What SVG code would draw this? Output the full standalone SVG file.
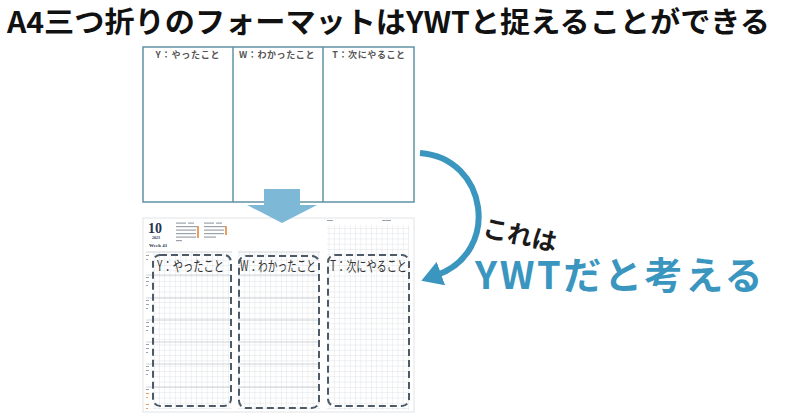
<svg xmlns="http://www.w3.org/2000/svg" width="800" height="419" viewBox="0 0 800 419">
<defs>
<style>
.jp{font-family:"Noto Sans CJK JP","Noto Sans",sans-serif}
.title{font-size:29px;font-weight:700;fill:#111}
.flab{font-size:9px;font-weight:700;fill:#555;text-anchor:middle}
.plab{font-size:14px;fill:#333}
.dash{fill:none;stroke:#4d5b68;stroke-width:2;stroke-dasharray:7 4}
.blk{stroke:#c4c9ce;stroke-width:0.8}
.mark{fill:#9aa3ab}
.orng{fill:#e8a060}
.serif{font-family:"Liberation Serif",serif;font-weight:700;fill:#1f3550}
</style>
<pattern id="grid" width="5.3" height="5.3" patternUnits="userSpaceOnUse">
<path d="M5.3 0H0V5.3" fill="none" stroke="#d2d7db" stroke-width="0.7"/>
</pattern>
<marker id="head" viewBox="0 0 20 24" refX="4" refY="12" markerWidth="21" markerHeight="25" markerUnits="userSpaceOnUse" orient="auto">
<path d="M0,0L20,12L0,24z" fill="#3a96bf"/>
</marker>
</defs>
<rect width="800" height="419" fill="#fff"/>

<g id="title">
<text class="jp title" x="7" y="33" textLength="763" lengthAdjust="spacingAndGlyphs">A4三つ折りのフォーマットはYWTと捉えることができる</text>
</g>

<g id="trifold">
<rect x="143" y="47" width="271" height="155" fill="#fff" stroke="#5f93a3" stroke-width="1.5"/>
<line x1="233" y1="47" x2="233" y2="202" stroke="#5f93a3" stroke-width="1.5"/>
<line x1="323" y1="47" x2="323" y2="202" stroke="#5f93a3" stroke-width="1.5"/>
<text class="jp flab" x="188" y="58" letter-spacing="0.8">Y：やったこと</text>
<text class="jp flab" x="277" y="58" letter-spacing="0.6">W：わかったこと</text>
<text class="jp flab" x="369" y="58" letter-spacing="0.6">T：次にやること</text>
</g>

<g id="planner">
<rect x="143" y="218" width="271" height="194" fill="#fff" stroke="#dfe3e6" stroke-width="1"/>
<text class="serif" x="148" y="233" font-size="14">10</text>
<text class="serif" x="152" y="238.5" font-size="4">2023</text>
<text class="serif" x="149" y="247" font-size="5">Week 41</text>
<g id="mini-calendars">
<rect class="mark" x="176" y="222.5" width="10" height="1.2"/>
<rect class="mark" x="188" y="222.5" width="6" height="1.2"/>
<rect class="mark" x="176" y="226" width="22" height="1.2"/>
<rect class="mark" x="176" y="229.5" width="20" height="1.2"/>
<rect class="mark" x="176" y="233" width="20" height="1.2"/>
<rect class="mark" x="176" y="236.5" width="20" height="1.2"/>
<rect class="mark" x="176" y="240" width="6" height="1.2"/>
<rect class="orng" x="197" y="226" width="2" height="12"/>
<rect class="mark" x="204" y="222.5" width="10" height="1.2"/>
<rect class="mark" x="216" y="222.5" width="6" height="1.2"/>
<rect class="mark" x="204" y="226" width="22" height="1.2"/>
<rect class="mark" x="204" y="229.5" width="20" height="1.2"/>
<rect class="mark" x="204" y="233" width="20" height="1.2"/>
<rect class="mark" x="204" y="236.5" width="12" height="1.2"/>
<rect class="orng" x="225" y="226" width="2" height="9"/>
</g>
<rect x="153" y="252" width="79" height="157" fill="url(#grid)"/>
<rect x="238" y="252" width="82" height="157" fill="url(#grid)"/>
<rect x="327" y="225" width="82" height="185" fill="url(#grid)"/>
<rect class="mark" x="327" y="220" width="6" height="1"/>
<rect class="mark" x="382" y="220" width="9" height="1"/>
<line class="blk" x1="146" y1="252" x2="232" y2="252"/>
<line class="blk" x1="238" y1="252" x2="320" y2="252"/>
<g class="blk">
<line x1="146" y1="275" x2="232" y2="275"/><line x1="238" y1="275" x2="320" y2="275"/>
<line x1="146" y1="298" x2="232" y2="298"/><line x1="238" y1="298" x2="320" y2="298"/>
<line x1="146" y1="320" x2="232" y2="320"/><line x1="238" y1="320" x2="320" y2="320"/>
<line x1="146" y1="342" x2="232" y2="342"/><line x1="238" y1="342" x2="320" y2="342"/>
<line x1="146" y1="364" x2="232" y2="364"/><line x1="238" y1="364" x2="320" y2="364"/>
<line x1="146" y1="387" x2="232" y2="387"/><line x1="238" y1="387" x2="320" y2="387"/>
</g>
<g id="time-scale">
<rect class="mark" x="146" y="255" width="3" height="1"/><rect class="mark" x="146" y="259" width="2" height="1"/>
<rect class="mark" x="146" y="277" width="3" height="1"/><rect class="mark" x="146" y="281" width="3" height="1"/><rect class="mark" x="146" y="285" width="2" height="1"/>
<rect class="mark" x="146" y="300" width="3" height="1"/><rect class="mark" x="146" y="304" width="3" height="1"/><rect class="mark" x="146" y="308" width="2" height="1"/>
<rect class="mark" x="146" y="322" width="3" height="1"/><rect class="mark" x="146" y="326" width="3" height="1"/><rect class="mark" x="146" y="330" width="2" height="1"/>
<rect class="mark" x="146" y="344" width="3" height="1"/><rect class="mark" x="146" y="348" width="3" height="1"/><rect class="mark" x="146" y="352" width="2" height="1"/>
<rect class="mark" x="146" y="366" width="3" height="1"/><rect class="mark" x="146" y="370" width="3" height="1"/><rect class="mark" x="146" y="374" width="2" height="1"/>
<rect class="mark" x="146" y="389" width="3" height="1"/><rect class="orng" x="146" y="393" width="3" height="1"/><rect class="orng" x="146" y="397" width="2" height="1"/>
<rect class="orng" x="146" y="404" width="3" height="1"/><rect class="orng" x="146" y="408" width="2" height="1"/>
</g>
<rect class="dash" x="153" y="255" width="78" height="151" rx="7"/>
<rect class="dash" x="239" y="256" width="80" height="152" rx="7"/>
<rect class="dash" x="328" y="255" width="81" height="151" rx="7"/>
<text class="jp plab" x="157" y="271" textLength="67" lengthAdjust="spacingAndGlyphs">Y：やったこと</text>
<text class="jp plab" x="240" y="271" textLength="76" lengthAdjust="spacingAndGlyphs">W：わかったこと</text>
<text class="jp plab" x="330" y="271" textLength="77" lengthAdjust="spacingAndGlyphs">T：次にやること</text>
</g>

<g id="down-arrow">
<polygon points="264,189 300,189 300,205 317,205 282,223 247,205 264,205" fill="#7db9d7"/>
</g>

<g id="connectors">
<path d="M420,153 C488,158 501,252 437,275" fill="none" stroke="#3a96bf" stroke-width="6" marker-end="url(#head)"/>
</g>

<g id="label-koreha">
<text class="jp" x="520" y="244" text-anchor="middle" font-size="25" font-weight="700" fill="#1a1a1a" transform="rotate(12 520 235)">これは</text>
</g>

<g id="label-ywt">
<text class="jp" x="475" y="289" font-size="38" font-weight="700" fill="#3a96bf" letter-spacing="2.6">YWTだと考える</text>
</g>
</svg>
